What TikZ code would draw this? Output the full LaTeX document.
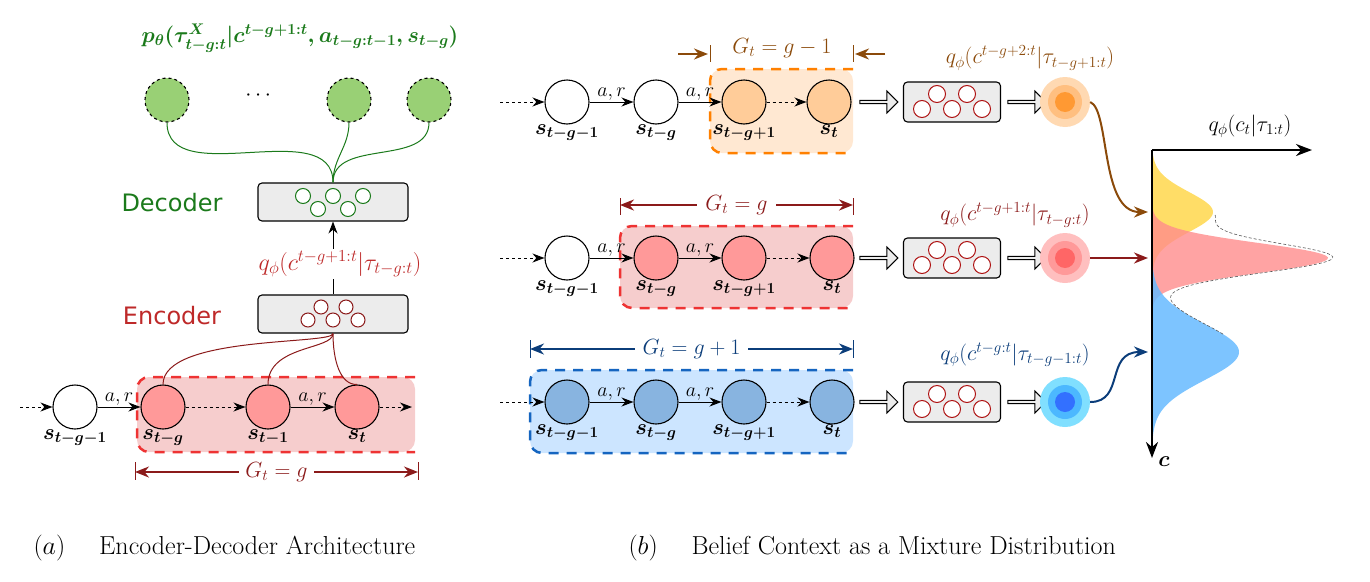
\RequirePackage{fix-cm}
\documentclass[tikz,border=0pt]{standalone}
\usepackage{amsmath}
\usepackage{fontspec}
\newfontfamily\sansf{DejaVu Sans}
\usetikzlibrary{arrows.meta,shapes.arrows}
\definecolor{gfill}{HTML}{99D075}
\definecolor{gdark}{HTML}{1B7A1B}
\definecolor{rfill}{HTML}{FF9999}
\definecolor{rbox}{HTML}{F6CDCD}
\definecolor{rline}{HTML}{EE3333}
\definecolor{rdark}{HTML}{8B1A1A}
\definecolor{ofill}{HTML}{FFCC99}
\definecolor{obox}{HTML}{FFE8D2}
\definecolor{oline}{HTML}{FF8000}
\definecolor{brown}{HTML}{8B4A0A}
\definecolor{bfill}{HTML}{88B4E0}
\definecolor{bbox}{HTML}{CCE5FF}
\definecolor{bline}{HTML}{1565C0}
\definecolor{bdark}{HTML}{0B3D7A}
\begin{document}
\begin{tikzpicture}[x=1pt,y=-1pt,
  every node/.style={font=\fontsize{22}{24}\selectfont},
  st/.style={circle,draw,line width=1.1pt,minimum size=44pt,inner sep=0pt},
  lab/.style={inner sep=0pt,font=\fontsize{22}{24}\selectfont\boldmath},
  gst/.style={st,dashed,fill=gfill},
  net/.style={draw,line width=1.1pt,rounded corners=4pt,fill=gray!15},
  tip/.style={-{Stealth[length=12pt,width=9pt]},line width=1pt},
  dtip/.style={tip,dashed},
  gap/.style={{Stealth[length=14pt,width=11pt]}-{Stealth[length=14pt,width=11pt]},line width=2pt},
  dbl/.style={single arrow,draw,line width=1pt,fill=gray!15,minimum height=38pt,minimum width=22pt,single arrow head extend=3pt,inner sep=0pt},
  ar/.style={inner sep=1pt,font=\fontsize{20}{22}\selectfont}]
\useasboundingbox (0,0) rectangle (1370,581);

% ---------- (a) encoder-decoder
\node[text=gdark,font=\fontsize{22}{24}\selectfont\boldmath] (ptitle) at (300,38) {$p_\theta(\tau^X_{t-g:t}|c^{t-g+1:t},a_{t-g:t-1},s_{t-g})$};
\node[gst] (g1) at (167,100) {};
\node (gdots) at (260,96) {$\cdots$};
\node[gst] (g2) at (349,100) {};
\node[gst] (g3) at (429,100) {};
\node[net,minimum width=150pt,minimum height=38pt] (dec) at (333,202) {};
\foreach \dx/\dy in {-30/-6,-15/7,0/-6,15/7,30/-6}
  \draw[gdark,line width=1pt,fill=white] (333+\dx,202+\dy) circle (7.5);
\node[text=gdark,font=\fontsize{24}{26}\selectfont\sansf] (dlab) at (172,203) {Decoder};
\node[net,minimum width=150pt,minimum height=38pt] (enc) at (333,314) {};
\foreach \dx/\dy in {-25/6,-12/-7,0/6,13/-7,25/6}
  \draw[rdark,line width=1pt,fill=white] (333+\dx,314+\dy) circle (7);
\node[text=rline!80!black,font=\fontsize{24}{26}\selectfont\sansf] (elab) at (172,316) {Encoder};
\draw[tip] (enc) -- (dec);
\node[text=rline!80!black,fill=white,inner sep=2pt,font=\fontsize{24}{26}\selectfont] (qa) at (340,264) {$q_\phi(c^{t-g+1:t}|\tau_{t-g:t})$};
\foreach \g in {g1,g2,g3}
  \draw[gdark,line width=1pt] (dec.north) to[out=90,in=-90] (\g.south);

\fill[rbox,rounded corners=12pt] (137,377) rectangle (415,452);
\draw[rline,line width=2.5pt,dash pattern=on 10pt off 8pt,rounded corners=12pt] (415,377) -- (137,377) -- (137,452) -- (415,452);
\node[st,fill=white,label={[lab]below:$s_{t-g-1}$}] (a0) at (75,407) {};
\node[st,fill=rfill,label={[lab]below:$s_{t-g}$}] (a1) at (163,407) {};
\node[st,fill=rfill,label={[lab]below:$s_{t-1}$}] (a2) at (268,407) {};
\node[st,fill=rfill,label={[lab]below:$s_t$}] (a3) at (357,407) {};
\coordinate (ain) at (20,407);
\coordinate (aout) at (412,407);
\draw[dtip] (ain) -- (a0);
\draw[tip] (a0) -- node[ar,above]{$a,r$} (a1);
\draw[dtip] (a1) -- (a2);
\draw[tip] (a2) -- node[ar,above]{$a,r$} (a3);
\draw[dtip] (a3) -- (aout);
\draw[rdark,line width=1pt] (enc.south) .. controls (333,345) and (163,335) .. (a1.north);
\draw[rdark,line width=1pt] (enc.south) .. controls (333,350) and (268,345) .. (a2.north);
\draw[rdark,line width=1pt] (enc.south) .. controls (333,360) and (340,385) .. (a3.north);
\coordinate (ga1) at (135,472);
\coordinate (ga2) at (418,472);
\draw[rdark] (135,462) -- (135,480) (418,462) -- (418,480);
\draw[gap,rdark] (ga1) -- node[fill=white,text=rdark,inner sep=6pt]{$G_t=g$} (ga2);

% ---------- (b) three context lengths
% row 1
\fill[obox,rounded corners=12pt] (710,69) rectangle (853,153);
\draw[oline,line width=2.5pt,dash pattern=on 10pt off 8pt,rounded corners=12pt] (853,69) -- (710,69) -- (710,153) -- (853,153);
\node[st,fill=white,label={[lab]below:$s_{t-g-1}$}] (b10) at (567,102) {};
\node[st,fill=white,label={[lab]below:$s_{t-g}$}] (b11) at (656,102) {};
\node[st,fill=ofill,label={[lab]below:$s_{t-g+1}$}] (b12) at (744,102) {};
\node[st,fill=ofill,label={[lab]below:$s_t$}] (b13) at (829,102) {};
\coordinate (b1in) at (500,102);
\draw[dtip] (b1in) -- (b10);
\draw[tip] (b10) -- node[ar,above]{$a,r$} (b11);
\draw[tip] (b11) -- node[ar,above]{$a,r$} (b12);
\draw[dtip] (b12) -- (b13);
\draw[brown] (710,45) -- (710,62) (853,45) -- (853,62);
\node[text=brown] (gl1) at (782,48) {$G_t=g-1$};
\coordinate (gb1a) at (678,54); \coordinate (gb1b) at (708,54);
\coordinate (gb1c) at (885,54); \coordinate (gb1d) at (855,54);
\draw[brown,line width=2pt,-{Stealth[length=14pt,width=11pt]}] (gb1a) -- (gb1b);
\draw[brown,line width=2pt,-{Stealth[length=14pt,width=11pt]}] (gb1c) -- (gb1d);

% row 2
\fill[rbox,rounded corners=12pt] (620,226) rectangle (853,308);
\draw[rline,line width=2.5pt,dash pattern=on 10pt off 8pt,rounded corners=12pt] (853,226) -- (620,226) -- (620,308) -- (853,308);
\node[st,fill=white,label={[lab]below:$s_{t-g-1}$}] (b20) at (567,258) {};
\node[st,fill=rfill,label={[lab]below:$s_{t-g}$}] (b21) at (656,258) {};
\node[st,fill=rfill,label={[lab]below:$s_{t-g+1}$}] (b22) at (744,258) {};
\node[st,fill=rfill,label={[lab]below:$s_t$}] (b23) at (832,258) {};
\coordinate (b2in) at (500,258);
\draw[dtip] (b2in) -- (b20);
\draw[tip] (b20) -- node[ar,above]{$a,r$} (b21);
\draw[tip] (b21) -- node[ar,above]{$a,r$} (b22);
\draw[dtip] (b22) -- (b23);
\draw[rdark] (620,198) -- (620,215) (853,198) -- (853,215);
\coordinate (gb2a) at (620,205); \coordinate (gb2b) at (853,205);
\draw[gap,rdark] (gb2a) -- node[fill=white,text=rdark,inner sep=8pt]{$G_t=g$} (gb2b);

% row 3
\fill[bbox,rounded corners=12pt] (530,370) rectangle (853,453);
\draw[bline,line width=2.5pt,dash pattern=on 10pt off 8pt,rounded corners=12pt] (853,370) -- (530,370) -- (530,453) -- (853,453);
\node[st,fill=bfill,label={[lab]below:$s_{t-g-1}$}] (b30) at (567,402) {};
\node[st,fill=bfill,label={[lab]below:$s_{t-g}$}] (b31) at (656,402) {};
\node[st,fill=bfill,label={[lab]below:$s_{t-g+1}$}] (b32) at (744,402) {};
\node[st,fill=bfill,label={[lab]below:$s_t$}] (b33) at (832,402) {};
\coordinate (b3in) at (500,402);
\draw[dtip] (b3in) -- (b30);
\draw[tip] (b30) -- node[ar,above]{$a,r$} (b31);
\draw[tip] (b31) -- node[ar,above]{$a,r$} (b32);
\draw[dtip] (b32) -- (b33);
\draw[bdark] (530,340) -- (530,358) (853,340) -- (853,358);
\coordinate (gb3a) at (530,349); \coordinate (gb3b) at (853,349);
\draw[gap,bdark] (gb3a) -- node[fill=white,text=bdark,inner sep=8pt]{$G_t=g+1$} (gb3b);

% encoders and posteriors
\foreach \r/\y/\cl/\cm/\cd in {1/102/orange!30/orange!50/orange!80,2/258/red!25/red!40/red!60,3/402/blue!25!cyan!50/blue!40!cyan!70/blue!70!cyan!80} {
  \node[dbl] (da\r) at (878,\y) {};
  \node[net,minimum width=97pt,minimum height=40pt] (e\r) at (952,\y) {};
  \foreach \dx/\dy in {-30/7,-15/-8,0/7,15/-8,30/7}
    \draw[rdark!70!red,line width=1pt,fill=white] (952+\dx,\y+\dy) circle (8.5);
  \node[dbl] (db\r) at (1026,\y) {};
  \node[circle,fill=\cl,minimum size=50pt,inner sep=0pt] (p\r) at (1065,\y) {};
  \fill[\cm] (p\r) circle (17);
  \fill[\cd] (p\r) circle (10);
}
\node[text=brown] (q1) at (1030,58) {$q_\phi(c^{t-g+2:t}|\tau_{t-g+1:t})$};
\node[text=rdark] (q2) at (1015,215) {$q_\phi(c^{t-g+1:t}|\tau_{t-g:t})$};
\node[text=bdark] (q3) at (1015,355) {$q_\phi(c^{t-g:t}|\tau_{t-g-1:t})$};

% mixture
\fill[orange!45!yellow!70,opacity=.85] (1152,150) -- plot[domain=150:290,samples=70] ({1152+61*exp(-0.5*((\x-212)/20)^2)},{\x}) -- cycle;
\fill[red!45,opacity=.8] (1152,180) -- plot[domain=180:340,samples=90] ({1152+176*exp(-0.5*((\x-258)/15)^2)},{\x}) -- cycle;
\fill[blue!45!cyan!60,opacity=.85] (1152,270) -- plot[domain=270:450,samples=90] ({1152+87*exp(-0.5*((\x-352)/28)^2)},{\x}) -- cycle;
\draw[densely dashed,gray!70!black,line width=.6pt] plot[domain=215:335,samples=90] ({1152+61*exp(-0.5*((\x-212)/20)^2)+176*exp(-0.5*((\x-258)/15)^2)+87*exp(-0.5*((\x-352)/28)^2)},{\x});
\coordinate (ax0) at (1152,150);
\coordinate (axx) at (1312,150);
\coordinate (axy) at (1152,458);
\draw[line width=2.5pt,-{Stealth[length=16pt,width=12pt]}] (ax0) -- (axx);
\draw[line width=2.5pt,-{Stealth[length=16pt,width=12pt]}] (ax0) -- (axy);
\node (axl) at (1250,126) {$q_\phi(c_t|\tau_{1:t})$};
\node[font=\fontsize{22}{24}\selectfont\boldmath] (cl) at (1164,462) {$c$};
\draw[brown,line width=2pt,-{Stealth[length=14pt,width=11pt]}] (p1.east) .. controls (1110,110) and (1100,212) .. (1148,212);
\draw[rdark,line width=2pt,-{Stealth[length=14pt,width=11pt]}] (p2.east) -- (1148,258);
\draw[bdark,line width=2pt,-{Stealth[length=14pt,width=11pt]}] (p3.east) .. controls (1125,402) and (1105,352) .. (1148,352);

% captions
\node[anchor=west,font=\fontsize{26}{28}\selectfont] (ca) at (30,548) {$(a)$\quad\ Encoder-Decoder Architecture};
\node[anchor=west,font=\fontsize{26}{28}\selectfont] (cb) at (625,548) {$(b)$\quad\ Belief Context as a Mixture Distribution};
\end{tikzpicture}
\end{document}
